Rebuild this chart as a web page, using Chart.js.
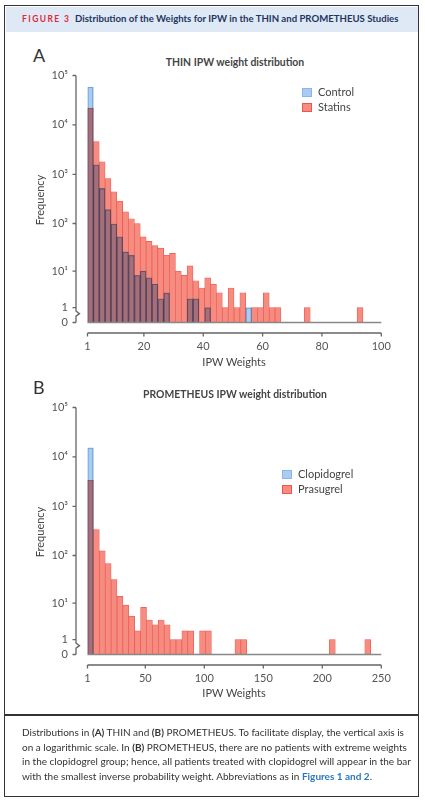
<!DOCTYPE html>
<html lang="en">
<head>
  <meta charset="UTF-8" />
  <title>IPW weight distribution</title>
  <style>
    body { margin: 0; background: #fff; }
    #fig { position: relative; width: 425px; height: 802px; overflow: hidden; font-family: Lato, "Open Sans", sans-serif; color: #333; }
    #fig > * { position: absolute; }
    .frame { left: 4px; top: 5px; width: 415px; height: 792px; border: 1.5px solid #333; box-sizing: border-box; }
    .header { left: 5.5px; top: 6.5px; width: 412px; height: 25px; background: #dfe9f5; }
    .header .fig { position: absolute; left: 16.5px; top: 7px; font-size: 8.5px; font-weight: 700; letter-spacing: 1.4px; color: #e2283b; }
    .header .ttl { position: absolute; left: 69.5px; top: 6px; font-size: 9.6px; font-weight: 700; color: #1d3560; white-space: nowrap; }
    .sep { left: 4px; top: 714px; width: 415px; height: 1.5px; background: #333; }
    .letter { left: 33px; font-size: 18px; line-height: 18px; color: #333; }
    .ptitle { left: 100px; width: 270px; text-align: center; font-size: 10.4px; line-height: 12px; font-weight: 700; color: #444; }
    .ytitle { width: 80px; left: 0px; text-align: center; font-size: 11px; line-height: 12px; color: #444; transform: rotate(-90deg); }
    .xtitle { left: 174px; width: 120px; text-align: center; font-size: 11px; line-height: 12px; color: #444; }
    .legend { font-size: 11px; color: #444; }
    .legend div { height: 15px; line-height: 15px; white-space: nowrap; }
    .legend i { display: inline-block; width: 8px; height: 7px; border: 1.2px solid; vertical-align: -1px; margin-right: 6px; }
    canvas { left: 0; }
    .caption { left: 22px; top: 725px; font-size: 10px; line-height: 14.5px; color: #333; white-space: nowrap; }
    .caption b { font-weight: 700; }
    .caption .ref { color: #2b78bd; font-weight: 700; }
  </style>
</head>
<body>
<div id="fig">
  <div class="frame"></div>
  <div class="header"><span class="fig">FIGURE 3</span><span class="ttl">Distribution of the Weights for IPW in the THIN and PROMETHEUS Studies</span></div>

  <div class="letter" style="top:46px">A</div>
  <div class="ptitle" style="top:56px">THIN IPW weight distribution</div>
  <canvas id="thinChart" width="425" height="330" style="top:40px"></canvas>
  <div class="legend" id="thinLegend" style="left:302px; top:84px"></div>
  <div class="ytitle" style="left:0px; top:194px">Frequency</div>
  <div class="xtitle" style="top:356px">IPW Weights</div>

  <div class="letter" style="top:378px">B</div>
  <div class="ptitle" style="top:388px">PROMETHEUS IPW weight distribution</div>
  <canvas id="promChart" width="425" height="330" style="top:372px"></canvas>
  <div class="legend" id="promLegend" style="left:282px; top:466px"></div>
  <div class="ytitle" style="left:0px; top:525.5px">Frequency</div>
  <div class="xtitle" style="top:687px">IPW Weights</div>

  <div class="sep"></div>
  <div class="caption">Distributions in <b>(A)</b> THIN and <b>(B)</b> PROMETHEUS. To facilitate display, the vertical axis is<br>on a logarithmic scale. In <b>(B)</b> PROMETHEUS, there are no patients with extreme weights<br>in the clopidogrel group; hence, all patients treated with clopidogrel will appear in the bar<br>with the smallest inverse probability weight. Abbreviations as in <span class="ref">Figures 1 and 2</span>.</div>
</div>

<script src="https://cdn.jsdelivr.net/npm/chart.js@4.4.1/dist/chart.umd.min.js"></script>
<script>
// histogram counts per bin (log axis shows count + 1)
const thinBinStart = 1
const thinBinWidth = 1.975
const thinControl = [58000, 1550, 516, 193, 97, 53, 26, 22, 8, 10,
  7, 5, 2, 3, 0, 0, 0, 2, 2, 0,
  1, 0, 0, 0, 0, 0, 0, 1, 0, 0,
  0, 0, 0, 0, 0, 0, 0, 0, 0, 0,
  0, 0, 0, 0, 0, 0, 0]
const thinStatins = [21900, 4600, 1790, 822, 442, 286, 173, 125, 99, 53,
  43, 35, 31, 22, 24, 10, 8, 13, 6, 4,
  7, 5, 3, 1, 4, 1, 3, 0, 1, 1,
  3, 1, 1, 0, 0, 0, 0, 1, 0, 0,
  0, 0, 0, 0, 0, 0, 1]
const thinXTicks = [1, 20, 40, 60, 80, 100]

const promBinStart = 1
const promBinWidth = 5
const promClopidogrel = [15200, 0, 0, 0, 0, 0, 0, 0, 0, 0,
  0, 0, 0, 0, 0, 0, 0, 0, 0, 0,
  0, 0, 0, 0, 0, 0, 0, 0, 0, 0,
  0, 0, 0, 0, 0, 0, 0, 0, 0, 0,
  0, 0, 0, 0, 0, 0, 0, 0]
const promPrasugrel = [3370, 338, 124, 68, 32, 14, 9, 5, 2, 8,
  4, 3, 4, 3, 1, 1, 2, 2, 0, 2,
  2, 0, 0, 0, 0, 1, 1, 0, 0, 0,
  0, 0, 0, 0, 0, 0, 0, 0, 0, 0,
  0, 1, 0, 0, 0, 0, 0, 1]
const promXTicks = [1, 50, 100, 150, 200, 250]

const yTickCounts = [0, 1, 10, 100, 1000, 10000, 100000]
const yTickLabels = ['0', '1', '10¹', '10²', '10³', '10⁴', '10⁵']

const blue = { fill: 'rgb(170,204,240)', line: 'rgb(138,182,232)' }
const red = { fill: 'rgb(246,139,127)', line: 'rgb(237,86,80)' }

Chart.defaults.font.family = 'Lato, "Open Sans", "Noto Sans", sans-serif'
Chart.defaults.color = '#555'

// offset spines, broken y axis and the zero line; control bars blend over the others
const spines = {
  id: 'spines',
  beforeDatasetDraw(chart, args) {
    if (args.index === 0) {
      chart.ctx.save()
      chart.ctx.globalCompositeOperation = 'multiply'
    }
  },
  afterDatasetDraw(chart, args) {
    if (args.index === 0) chart.ctx.restore()
  },
  afterDraw(chart) {
    const { ctx, chartArea: area, scales: { x, y } } = chart
    const sx = area.left - 11.5
    const sy = area.bottom + 10.5
    const yZero = y.getPixelForValue(1)
    const yOne = y.getPixelForValue(2)
    ctx.save()
    ctx.strokeStyle = '#888'
    ctx.lineWidth = 1.6
    ctx.beginPath()
    ctx.moveTo(area.left, yZero)
    ctx.lineTo(area.right, yZero)
    ctx.stroke()

    ctx.strokeStyle = '#666'
    ctx.lineWidth = 1.3
    ctx.beginPath()
    ctx.moveTo(sx, area.top)
    ctx.lineTo(sx, yOne + 3.5)
    ctx.lineTo(sx + 3.5, yOne + 6)
    ctx.lineTo(sx, yOne + 8.5)
    ctx.lineTo(sx, yZero)
    yTickCounts.forEach(c => {
      const py = y.getPixelForValue(c + 1)
      ctx.moveTo(sx - 3.5, py)
      ctx.lineTo(sx, py)
    })
    ctx.moveTo(x.getPixelForValue(x.min), sy)
    ctx.lineTo(x.getPixelForValue(x.max), sy)
    x.ticks.forEach(t => {
      const px = x.getPixelForValue(t.value)
      ctx.moveTo(px, sy)
      ctx.lineTo(px, sy + 3.5)
    })
    ctx.stroke()
    ctx.restore()
  }
}

function makePanel(canvasId, legendId, binStart, binWidth, xMax, xTicks, labels, topCounts, backCounts) {
  const centers = topCounts.map((_, i) => binStart + binWidth * (i + 0.5))
  const points = counts => counts.map((c, i) => ({ x: centers[i], y: c > 0 ? c + 1 : null }))

  const legend = document.getElementById(legendId)
  ;[blue, red].forEach((col, i) => {
    const row = document.createElement('div')
    row.innerHTML = `<i style="background:${col.fill};border-color:${col.line}"></i>${labels[i]}`
    legend.appendChild(row)
  })

  return new Chart(document.getElementById(canvasId), {
    type: 'bar',
    data: {
      datasets: [
        { label: labels[0], data: points(topCounts), backgroundColor: blue.fill, borderColor: blue.line, borderWidth: 0.6 },
        { label: labels[1], data: points(backCounts), backgroundColor: red.fill, borderColor: red.line, borderWidth: 0.7 }
      ]
    },
    options: {
      responsive: false,
      animation: false,
      layout: { padding: { top: 35.5, right: 43.7, left: 0, bottom: 17.5 } },
      datasets: { bar: { grouped: false, barPercentage: 1, categoryPercentage: 1, borderSkipped: 'start' } },
      plugins: { legend: { display: false }, tooltip: { enabled: false } },
      scales: {
        x: {
          type: 'linear',
          offset: false,
          min: binStart,
          max: xMax,
          grid: { display: false, drawTicks: false, offset: false },
          border: { display: false },
          ticks: { autoSkip: false, maxRotation: 0, padding: 17, font: { size: 11 } },
          afterBuildTicks: s => { s.ticks = xTicks.map(v => ({ value: v })) },
          afterFit: s => { s.height = 30 }
        },
        y: {
          type: 'logarithmic',
          min: 1,
          max: 100001,
          grid: { display: false, drawTicks: false },
          border: { display: false },
          ticks: { autoSkip: false, padding: 19.5, font: { size: 11 }, callback: (v, i) => yTickLabels[i] },
          afterBuildTicks: s => { s.ticks = yTickCounts.map(c => ({ value: c + 1 })) },
          afterFit: s => { s.width = 87.5 }
        }
      }
    },
    plugins: [spines]
  })
}

makePanel('thinChart', 'thinLegend', thinBinStart, thinBinWidth, 100, thinXTicks,
  ['Control', 'Statins'], thinControl, thinStatins)
makePanel('promChart', 'promLegend', promBinStart, promBinWidth, 250, promXTicks,
  ['Clopidogrel', 'Prasugrel'], promClopidogrel, promPrasugrel)
</script>
</body>
</html>
